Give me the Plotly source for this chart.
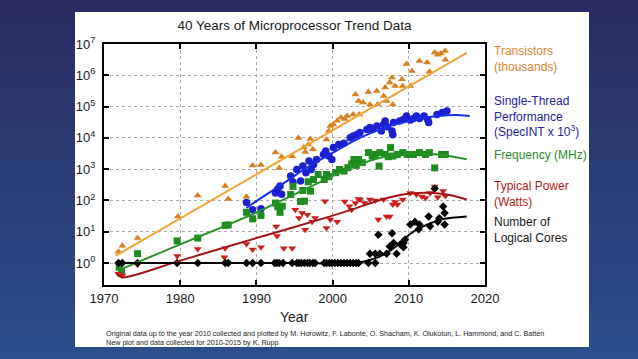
import plotly.graph_objects as go

# ---------------- data ----------------
title_text = "40 Years of Microprocessor Trend Data"
x_ticks = [1970, 1980, 1990, 2000, 2010, 2020]
y_tickvals = [1, 10, 100, 1000, 10000, 100000, 1000000, 10000000]
y_ticktext = ["10<sup>0</sup>", "10<sup>1</sup>", "10<sup>2</sup>", "10<sup>3</sup>",
              "10<sup>4</sup>", "10<sup>5</sup>", "10<sup>6</sup>", "10<sup>7</sup>"]

trans_years = [1971.9, 1972.4, 1974.4, 1979.7, 1982.3, 1985.9, 1986.3, 1988.7, 1989.5, 1990.6,
               1992.5, 1993.0, 1993.3, 1994.7, 1995.5, 1996.2, 1996.4, 1996.8, 1997.1, 1997.4,
               1999.2, 1999.5, 1999.7, 2000.1, 2000.6, 2001.1, 2001.6, 2001.9, 2002.7, 2003.0,
               2003.4, 2003.5, 2004.0, 2004.7, 2004.9, 2005.8, 2005.9, 2006.7, 2006.9, 2007.1,
               2007.5, 2007.8, 2007.9, 2008.2, 2009.1, 2009.2, 2009.7, 2010.2, 2010.4, 2011.4,
               2012.4, 2012.7, 2013.4, 2013.8, 2014.2, 2014.75, 2014.8]
trans_vals = [2.3, 3.6, 6.3, 31, 145, 290, 112, 132, 1320, 1350,
              3400, 1100, 2500, 2600, 10000, 4900, 3550, 6200, 9300, 4300,
              8900, 16600, 24000, 27000, 35000, 45000, 40000, 50000, 56000, 245000,
              151000, 56000, 135000, 295000, 117000, 316000, 117000, 219000, 407000, 151000,
              589000, 851000, 117000, 457000, 741000, 457000, 2290000, 457000, 1380000, 2880000,
              2570000, 1290000, 5370000, 4570000, 5010000, 6030000, 3160000]

perf_years = [1988.7, 1989.5, 1990.6, 1992.5, 1992.8, 1993.1, 1993.3, 1994.5, 1994.8, 1995.3,
              1995.8, 1996.1, 1996.5, 1996.9, 1997.2, 1997.5, 1997.9, 1998.8, 1999.1, 1999.5,
              1999.9, 2000.1, 2000.8, 2001.5, 2002.3, 2002.7, 2003.2, 2003.6, 2004.5, 2004.9,
              2005.2, 2005.8, 2006.4, 2006.7, 2006.9, 2007.2, 2007.8, 2007.9, 2008.0, 2008.8,
              2009.3, 2009.7, 2010.2, 2010.6, 2011.0, 2011.4, 2012.0, 2012.5, 2012.6, 2013.7,
              2014.4, 2015.0]
perf_vals = [87, 51, 54, 174, 234, 288, 158, 603, 389, 977,
             417, 1260, 776, 1820, 977, 1410, 2040, 2950, 3800, 2630,
             2040, 4900, 6170, 6760, 10200, 11500, 12900, 14800, 18600, 21400,
             18600, 24000, 16600, 26900, 34700, 22900, 16600, 12600, 30900, 34700,
             38900, 50100, 37200, 41700, 50100, 41700, 50100, 37200, 30900, 56200,
             64600, 72400]

freq_years = [1972.0, 1972.3, 1974.4, 1979.6, 1982.3, 1985.9, 1986.3, 1988.7, 1989.5, 1990.6,
              1992.5, 1992.8, 1993.1, 1993.4, 1994.5, 1994.8, 1995.8, 1996.3, 1996.1, 1996.8,
              1997.1, 1997.5, 1998.1, 1998.9, 1999.2, 1999.5, 2000.4, 2000.9, 2001.5, 2002.0,
              2002.5, 2002.8, 2003.1, 2003.4, 2003.9, 2004.7, 2005.2, 2005.6, 2006.1, 2006.2,
              2006.9, 2007.3, 2007.6, 2007.9, 2008.5, 2009.2, 2009.8, 2010.6, 2011.4, 2012.2,
              2012.7, 2013.4, 2014.3, 2014.8]
freq_vals = [0.74, 0.54, 2.0, 5.1, 6.3, 16, 16.6, 42, 26, 33,
             83, 63, 42, 66, 155, 282, 93, 95, 209, 398,
             200, 468, 676, 468, 676, 575, 776, 977, 871, 1120,
             1480, 2040, 1320, 2040, 1620, 3390, 2630, 2950, 1260, 3390,
             2950, 2510, 4900, 2630, 2950, 3390, 2950, 2950, 3390, 2950,
             3390, 1100, 2950, 2950]

power_years = [1971.9, 1972.4, 1974.4, 1979.6, 1982.3, 1985.9, 1985.8, 1988.7, 1989.5, 1990.6,
               1992.6, 1992.7, 1993.6, 1994.7, 1995.1, 1995.6, 1996.0, 1996.4, 1996.7, 1997.3,
               1997.7, 1999.0, 1999.2, 1999.7, 2000.6, 2001.6, 2002.2, 2002.5, 2003.0, 2003.4,
               2003.6, 2004.2, 2004.9, 2005.6, 2006.0, 2006.7, 2007.1, 2007.5, 2007.9, 2008.2,
               2008.5, 2009.2, 2010.2, 2011.0, 2011.7, 2012.2, 2012.8, 2013.4, 2013.8, 2014.5,
               2014.8]
power_vals = [0.46, 0.40, 0.89, 1.7, 2.8, 3.0, 1.55, 4.1, 2.7, 3.2,
              14.8, 7.4, 3.0, 3.0, 51, 27.5, 40, 11.7, 35, 21,
              27.5, 95, 13.2, 24.5, 21, 93, 66, 51, 83, 112,
              107, 83, 107, 100, 24.5, 107, 31, 31, 74, 89,
              74, 107, 174, 155, 135, 120, 174, 282, 126, 200,
              138]

cores_years = [1971.9, 1972.4, 1974.4, 1979.6, 1982.3, 1985.9, 1986.3, 1988.7, 1989.5, 1990.6,
               1992.4, 1992.7, 1993.0, 1993.5, 1994.7, 1995.3, 1995.6, 1995.9, 1996.3, 1996.7,
               1997.0, 1997.4, 1997.7, 1998.9, 1999.2, 1999.6, 1999.9, 2000.3, 2000.7, 2001.1,
               2001.5, 2001.9, 2002.3, 2002.7, 2003.1, 2003.4, 2004.7, 2005.6,
               2004.9, 2005.6, 2006.0, 2006.2, 2007.1, 2007.5, 2007.8, 2008.0, 2008.4, 2008.9,
               2009.3, 2009.3, 2009.5, 2010.2, 2010.8, 2011.3, 2011.4, 2012.6, 2012.8, 2013.4,
               2013.8, 2014.0, 2014.5, 2014.7, 2014.7]
cores_vals = [1, 1, 1, 1, 1, 1, 1, 1, 1, 1,
              1, 1, 1, 1, 1, 1, 1, 1, 1, 1,
              1, 1, 1, 1, 1, 1, 1, 1, 1, 1,
              1, 1, 1, 1, 1, 1, 1, 1,
              2, 2, 8, 2, 2, 3.4, 9, 4.4, 2, 4,
              3.2, 4.4, 5.6, 17, 21, 12, 17, 31, 15, 240,
              21, 27, 64, 40, 17]

# fitted trend curves
trans_fit_years = [1971.5, 2017.6]
trans_fit_vals = [1.7, 5250000]
perf_fit_years = [1988.7, 1990, 1992, 1994, 1996, 1998, 2000, 2002, 2004, 2006, 2008, 2010,
                  2012, 2014, 2016, 2018]
perf_fit_vals = [57.5, 95.5, 200, 417, 891, 1780, 3310, 6310, 11200, 17800, 26300, 34700,
                 43700, 50100, 53700, 50100]
freq_fit_years = [1972.1, 1980, 1986, 1990, 1995, 2000, 2003, 2006, 2009, 2012, 2015, 2017.6]
freq_fit_vals = [0.62, 3.98, 15.8, 41.7, 158, 603, 1260, 2240, 3020, 3160, 2690, 2090]
power_fit_years = [1971.6, 1972.4, 1980, 1990, 1999.7, 2003, 2006.7, 2010.2, 2013.2, 2015.5, 2017.6]
power_fit_vals = [0.47, 0.35, 1.2, 6.3, 31, 56, 112, 166, 174, 148, 107]
cores_fit_years = [1971.5, 1985, 1995, 2002.9, 2004.9, 2006.7, 2008.9, 2010.2, 2012.4, 2014.5, 2017.6]
cores_fit_vals = [1, 1, 1, 1, 1.26, 1.86, 4.37, 8.7, 17, 25.7, 31]

legend_labels = ["Transistors<br>(thousands)",
                 "Single-Thread<br>Performance<br>(SpecINT x 10<sup>3</sup>)",
                 "Frequency (MHz)",
                 "Typical Power<br>(Watts)",
                 "Number of<br>Logical Cores"]
footnote = ("Original data up to the year 2010 collected and plotted by M. Horowitz, F. Labonte, "
            "O. Shacham, K. Olukotun, L. Hammond, and C. Batten<br>"
            "New plot and data collected for 2010-2015 by K. Rupp")

# ---------------- styling ----------------
FONT = "Liberation Sans, Arial, Helvetica, sans-serif"
W, H = 638, 359
ML, MR, MT, MB = 104, 153, 44, 74
PW, PH = W - ML - MR, H - MT - MB


def px_x(px):
    return (px - ML) / PW


def px_y(py):
    return (H - MB - py) / PH


fig = go.Figure()

series = [
    (trans_years, trans_vals, "triangle-up", 7, "#d8801f", trans_fit_years, trans_fit_vals, "#f0a43a"),
    (perf_years, perf_vals, "circle", 7.5, "#1d20cf", perf_fit_years, perf_fit_vals, "#1530e8"),
    (freq_years, freq_vals, "square", 7, "#1f8c1f", freq_fit_years, freq_fit_vals, "#2a922a"),
    (power_years, power_vals, "triangle-down", 7, "#cc1f1f", power_fit_years, power_fit_vals, "#a31515"),
    (cores_years, cores_vals, "diamond", 6.5, "#000000", cores_fit_years, cores_fit_vals, "#000000"),
]

for xs, ys, sym, size, mcol, fx, fy, lcol in series:
    fig.add_trace(go.Scatter(x=xs, y=ys, mode="markers",
                             marker=dict(symbol=sym, size=size, color=mcol, line=dict(width=0)),
                             showlegend=False, hoverinfo="x+y"))
for xs, ys, sym, size, mcol, fx, fy, lcol in series:
    fig.add_trace(go.Scatter(x=fx, y=fy, mode="lines",
                             line=dict(color=lcol, width=2, shape="spline", smoothing=0.8),
                             showlegend=False, hoverinfo="skip"))

# background gradient + white panel
shapes = []
n_bands = 36
top_c = (41, 44, 97)
bot_c = (44, 78, 140)
fx0, fx1 = px_x(0), px_x(W)
for i in range(n_bands):
    t = i / (n_bands - 1)
    c = tuple(round(top_c[k] + (bot_c[k] - top_c[k]) * t) for k in range(3))
    y_top = H * i / n_bands
    y_bot = H * (i + 1) / n_bands + 1
    shapes.append(dict(type="rect", xref="paper", yref="paper", layer="below",
                       x0=fx0, x1=fx1, y0=px_y(y_bot), y1=px_y(y_top),
                       fillcolor="rgb(%d,%d,%d)" % c, line=dict(width=0)))
shapes.append(dict(type="rect", xref="paper", yref="paper", layer="below",
                   x0=px_x(75), x1=px_x(589), y0=px_y(347), y1=px_y(12),
                   fillcolor="white", line=dict(width=0)))

annotations = []
legend_colors = ["#d9852e", "#23239c", "#2a8a2a", "#b01c1c", "#1a1a1a"]
legend_centers = [58.7, 116, 155, 193.5, 230]
for lab, col, cy in zip(legend_labels, legend_colors, legend_centers):
    annotations.append(dict(text=lab, xref="paper", yref="paper", x=px_x(492), y=px_y(cy),
                            xanchor="left", yanchor="middle", align="left", showarrow=False,
                            font=dict(family=FONT, size=12, color=col)))
annotations.append(dict(text="Year", xref="paper", yref="paper", x=0.5, y=px_y(316.5),
                        xanchor="center", yanchor="middle", showarrow=False,
                        font=dict(family=FONT, size=14, color="#1a1a1a")))
annotations.append(dict(text=footnote, xref="paper", yref="paper", x=px_x(104), y=px_y(337.5),
                        xanchor="left", yanchor="middle", align="left", showarrow=False,
                        font=dict(family=FONT, size=7.2, color="#222222")))

axis_common = dict(showline=True, linecolor="black", linewidth=2, mirror="ticks",
                   ticks="inside", ticklen=5, tickwidth=1.5, tickcolor="black",
                   showgrid=True, gridcolor="#a8a8a8", griddash="dot", gridwidth=1,
                   zeroline=False, tickfont=dict(family=FONT, size=13, color="#1a1a1a"))

fig.update_layout(
    width=W, height=H,
    margin=dict(l=ML, r=MR, t=MT, b=MB),
    paper_bgcolor="rgb(42,60,118)", plot_bgcolor="white",
    shapes=shapes, annotations=annotations,
    title=dict(text=title_text, x=0.5, xref="paper", xanchor="center",
               y=1 - 25.7 / H, yref="container", yanchor="middle",
               font=dict(family=FONT, size=13.5, color="#1a1a1a")),
    xaxis=dict(range=[1970, 2020], tickvals=x_ticks, **axis_common),
    yaxis=dict(type="log", range=[-0.7, 7], tickvals=y_tickvals, ticktext=y_ticktext,
               ticklabelstandoff=4, **axis_common),
    showlegend=False,
)

fig.write_html("out.html", config={"displayModeBar": False},
               post_script="document.body.style.margin='0';document.body.style.background='rgb(42,60,118)';")
